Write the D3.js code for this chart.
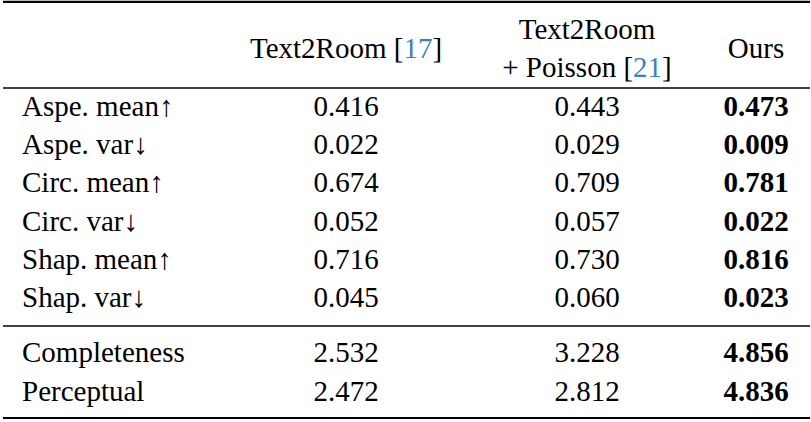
<!DOCTYPE html>
<html><head><meta charset="utf-8">
<script src="https://d3js.org/d3.v7.min.js"></script>
<style>body{margin:0;background:#fff}</style></head>
<body><svg id="c" width="811" height="422"></svg>
<script>
const rowLabels=["Aspe. mean↑","Aspe. var↓","Circ. mean↑","Circ. var↓","Shap. mean↑","Shap. var↓","Completeness","Perceptual"];
const text2room=["0.416","0.022","0.674","0.052","0.716","0.045","2.532","2.472"];
const poisson=["0.443","0.029","0.709","0.057","0.730","0.060","3.228","2.812"];
const ours=["0.473","0.009","0.781","0.022","0.816","0.023","4.856","4.836"];
const svg=d3.select("#c");
const F="'Liberation Serif',serif";
const fs=29, cite="#3c7fc0";
const colX=[346,587,756];
const baselines=[116,154,192,231,269,307,362,401];
const t=(x,y,anchor)=>svg.append("text").attr("x",x).attr("y",y).attr("text-anchor",anchor).attr("font-family",F).attr("font-size",fs).attr("fill","#000");
[[1.8,2.2],[88,1.3],[326,1.3],[418,2.2]].forEach(([y,w])=>svg.append("line").attr("x1",3).attr("x2",810).attr("y1",y).attr("y2",y).attr("stroke","#000").attr("stroke-width",w));
let h=t(colX[0],58,"middle"); h.append("tspan").text("Text2Room ["); h.append("tspan").attr("fill",cite).text("17"); h.append("tspan").text("]");
t(colX[1],39,"middle").text("Text2Room");
h=t(colX[1],77,"middle"); h.append("tspan").text("+ Poisson ["); h.append("tspan").attr("fill",cite).text("21"); h.append("tspan").text("]");
t(colX[2],58,"middle").text("Ours");
rowLabels.forEach((l,i)=>{
  t(22,baselines[i],"start").text(l);
  t(colX[0],baselines[i],"middle").text(text2room[i]);
  t(colX[1],baselines[i],"middle").text(poisson[i]);
  t(colX[2],baselines[i],"middle").attr("font-weight","bold").text(ours[i]);
});
</script></body></html>
